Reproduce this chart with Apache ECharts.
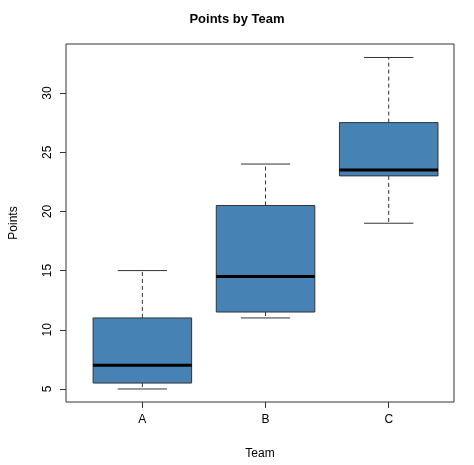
<!DOCTYPE html>
<html>
<head>
<meta charset="utf-8">
<script src="https://cdn.jsdelivr.net/npm/echarts@6/dist/echarts.min.js"></script>
<style>html,body{margin:0;padding:0;background:#fff}#c{width:474px;height:465px}</style>
</head>
<body>
<div id="c"></div>
<script>
// box data: min, Q1, median, Q3, max
var teams = ['A', 'B', 'C'];
var mins = [5, 11, 19];
var q1s = [5.5, 11.5, 23];
var medians = [7, 14.5, 23.5];
var q3s = [11, 20.5, 27.5];
var maxs = [15, 24, 33];
var yTicks = [5, 10, 15, 20, 25, 30];

var data = teams.map(function (t, i) {
    return [i + 1, mins[i], q1s[i], medians[i], q3s[i], maxs[i]];
});

var chart = echarts.init(document.getElementById('c'));

function renderBox(params, api) {
    var x = api.value(0);
    var half = api.size([0.8, 0])[0] / 2;
    var capHalf = half / 2;
    var pMin = api.coord([x, api.value(1)]);
    var pQ1 = api.coord([x, api.value(2)]);
    var pMed = api.coord([x, api.value(3)]);
    var pQ3 = api.coord([x, api.value(4)]);
    var pMax = api.coord([x, api.value(5)]);
    var cx = pMin[0];
    var dash = {stroke: '#333', lineWidth: 1, lineDash: [4, 3]};
    var solid = {stroke: '#333', lineWidth: 1};
    return {
        type: 'group',
        children: [
            {type: 'line', shape: {x1: cx, y1: pQ3[1], x2: cx, y2: pMax[1]}, style: dash},
            {type: 'line', shape: {x1: cx, y1: pQ1[1], x2: cx, y2: pMin[1]}, style: dash},
            {type: 'line', shape: {x1: cx - capHalf, y1: pMax[1], x2: cx + capHalf, y2: pMax[1]}, style: solid},
            {type: 'line', shape: {x1: cx - capHalf, y1: pMin[1], x2: cx + capHalf, y2: pMin[1]}, style: solid},
            {type: 'rect', shape: {x: cx - half, y: pQ3[1], width: half * 2, height: pQ1[1] - pQ3[1]},
                style: {fill: '#4682b4', stroke: '#333', lineWidth: 1}},
            {type: 'line', shape: {x1: cx - half, y1: pMed[1], x2: cx + half, y2: pMed[1]},
                style: {stroke: '#000', lineWidth: 3}}
        ]
    };
}

var option = {
    animation: false,
    title: {
        text: 'Points by Team', left: 'center', top: 8,
        textStyle: {fontFamily: 'Liberation Sans', fontSize: 13, fontWeight: 'bold', color: '#000'}
    },
    grid: {left: 62, right: 20, top: 44, bottom: 63, show: true, borderColor: '#333', borderWidth: 1},
    xAxis: {
        type: 'value', min: 0.38, max: 3.53,
        name: 'Team', nameLocation: 'middle', nameGap: 46,
        nameTextStyle: {fontFamily: 'Liberation Sans', fontSize: 12, color: '#000'},
        axisLine: {show: false}, splitLine: {show: false},
        axisTick: {show: true, length: 6, inside: false, customValues: [1, 2, 3], lineStyle: {color: '#333'}},
        axisLabel: {
            customValues: [1, 2, 3], margin: 12,
            fontFamily: 'Liberation Sans', fontSize: 12, color: '#000',
            formatter: function (v) { return teams[Math.round(v) - 1] || ''; }
        }
    },
    yAxis: {
        type: 'value', min: 3.9, max: 34.14,
        name: 'Points', nameLocation: 'middle', nameGap: 46, nameRotate: 90,
        nameTextStyle: {fontFamily: 'Liberation Sans', fontSize: 12, color: '#000'},
        axisLine: {show: false}, splitLine: {show: false},
        axisTick: {show: true, length: 6, customValues: yTicks, lineStyle: {color: '#333'}},
        axisLabel: {
            customValues: yTicks, rotate: 90, margin: 12,
            fontFamily: 'Liberation Sans', fontSize: 12, color: '#000'
        }
    },
    series: [{
        type: 'custom',
        renderItem: renderBox,
        encode: {x: 0, y: [1, 2, 3, 4, 5]},
        data: data
    }]
};
chart.setOption(option);
</script>
</body>
</html>
